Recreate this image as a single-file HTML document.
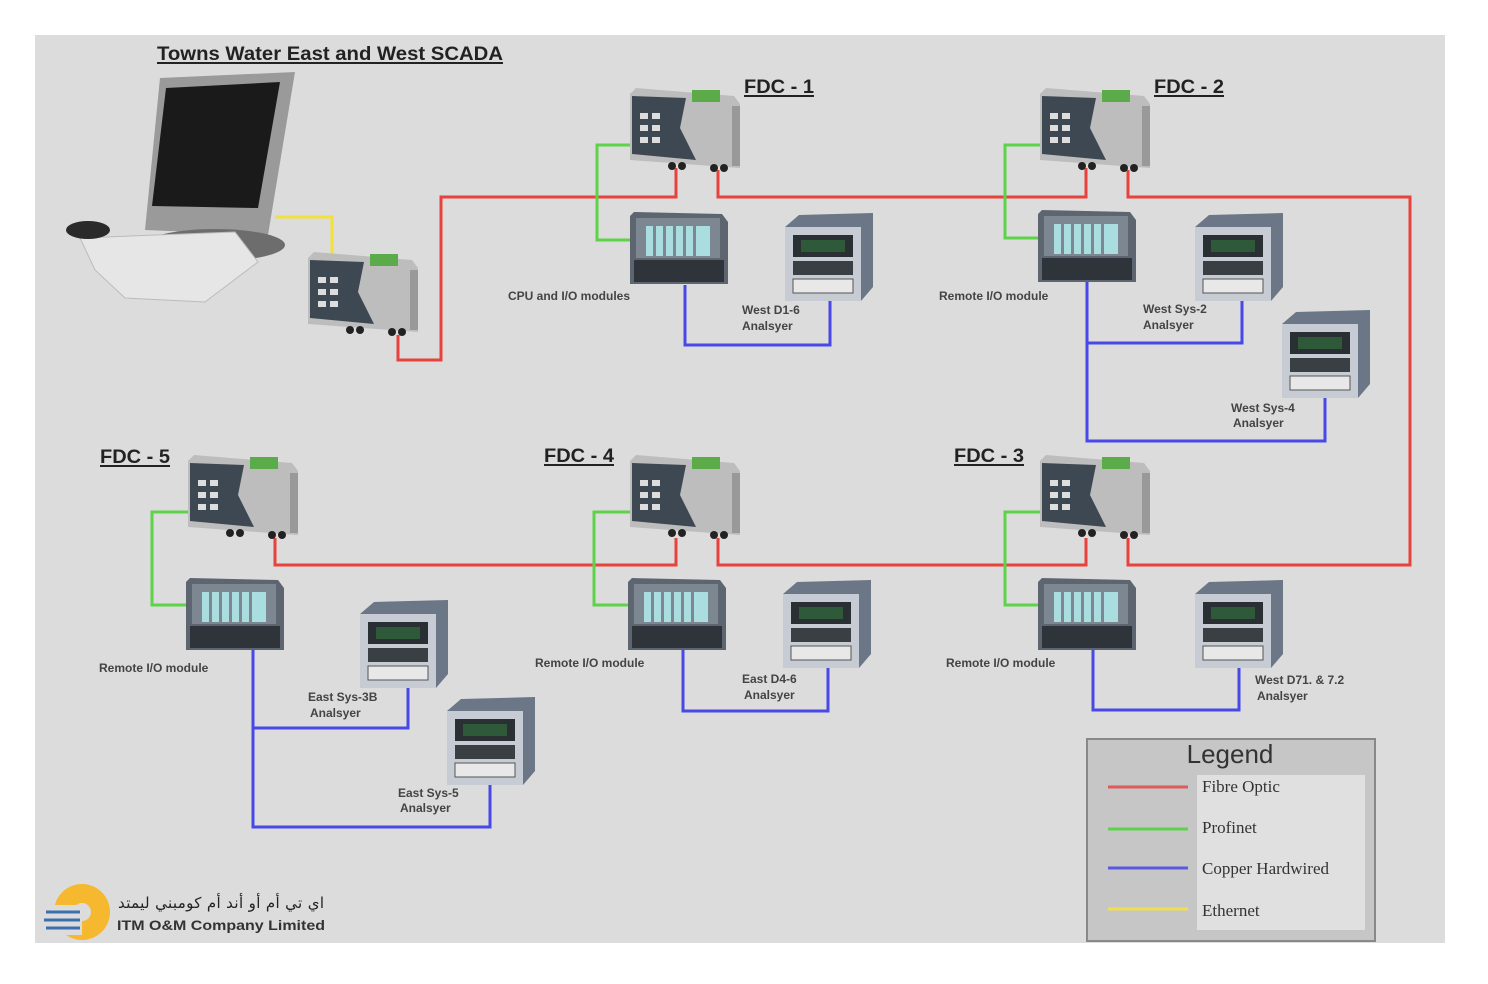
<!DOCTYPE html>
<html><head><meta charset="utf-8"><style>
html,body{margin:0;padding:0;background:#fff;}
svg{display:block;}
.s{font-family:"Liberation Sans",sans-serif;}
.serif{font-family:"Liberation Serif",serif;}
</style></head><body>
<svg width="1488" height="984" viewBox="0 0 1488 984" xmlns="http://www.w3.org/2000/svg">
<defs>
<g id="sw">
  <polygon points="0,6 6,0 104,8 110,16 110,80 0,72" fill="#bdbdbd"/>
  <polygon points="2,8 56,10 50,40 66,72 2,66" fill="#3e4852"/>
  <rect x="62" y="2" width="28" height="12" fill="#5cab4a"/>
  <rect x="10" y="25" width="8" height="6" fill="#ddd"/><rect x="10" y="37" width="8" height="6" fill="#ddd"/><rect x="10" y="49" width="8" height="6" fill="#ddd"/>
  <rect x="22" y="25" width="8" height="6" fill="#ddd"/><rect x="22" y="37" width="8" height="6" fill="#ddd"/><rect x="22" y="49" width="8" height="6" fill="#ddd"/>
  <rect x="102" y="18" width="8" height="60" fill="#999"/>
  <circle cx="42" cy="78" r="4" fill="#222"/><circle cx="52" cy="78" r="4" fill="#222"/>
  <circle cx="84" cy="80" r="4" fill="#222"/><circle cx="94" cy="80" r="4" fill="#222"/>
</g>
<g id="plc">
  <polygon points="0,4 4,0 92,2 98,10 98,72 0,72" fill="#5d6670"/>
  <rect x="6" y="6" width="84" height="40" fill="#7c8791"/>
  <rect x="16" y="14" width="7" height="30" fill="#a9dde0"/><rect x="26" y="14" width="7" height="30" fill="#a9dde0"/><rect x="36" y="14" width="7" height="30" fill="#a9dde0"/><rect x="46" y="14" width="7" height="30" fill="#a9dde0"/><rect x="56" y="14" width="7" height="30" fill="#a9dde0"/><rect x="66" y="14" width="14" height="30" fill="#a9dde0"/>
  <rect x="4" y="48" width="90" height="22" fill="#2f343a"/>
</g>
<g id="an">
  <polygon points="0,14 14,2 88,0 88,74 76,88 0,88" fill="#6b7686"/>
  <rect x="0" y="14" width="76" height="74" fill="#c7ccd4"/>
  <rect x="8" y="22" width="60" height="22" fill="#2a2f33"/>
  <rect x="16" y="27" width="44" height="12" fill="#2f5a3a"/>
  <rect x="8" y="48" width="60" height="14" fill="#3a3f44"/>
  <rect x="8" y="66" width="60" height="14" fill="#e8e8e8" stroke="#555"/>
</g>
</defs>
<rect x="35" y="35" width="1410" height="908" fill="#dcdcdc"/>

<g fill="none" stroke-width="3">
<g stroke="#e8423d">
<polyline points="398,335 398,360 441,360 441,197 676,197 676,168"/>
<polyline points="718,170 718,197 1086,197 1086,168"/>
<polyline points="1128,170 1128,197 1410,197 1410,565 1128,565 1128,538"/>
<polyline points="1086,538 1086,565 718,565 718,538"/>
<polyline points="676,538 676,565 275,565 275,538"/>
</g>
<g stroke="#5ed34a">
<polyline points="665,145 597,145 597,240 632,240"/>
<polyline points="1075,145 1005,145 1005,238 1040,238"/>
<polyline points="223,512 152,512 152,605 190,605"/>
<polyline points="665,512 594,512 594,605 632,605"/>
<polyline points="1075,512 1005,512 1005,605 1040,605"/>
</g>
<g stroke="#4848e8">
<polyline points="685,285 685,345 830,345 830,300"/>
<polyline points="1087,265 1087,441 1325,441 1325,395"/>
<polyline points="1087,343 1242,343 1242,298"/>
<polyline points="253,650 253,827 490,827 490,780"/>
<polyline points="253,728 408,728 408,686"/>
<polyline points="683,650 683,711 828,711 828,665"/>
<polyline points="1093,650 1093,710 1239,710 1239,665"/>
</g>
<polyline stroke="#f2e13a" points="275,217 332,217 332,280"/>
</g>

<!-- PC -->
<polygon points="160,78 295,72 268,235 145,230" fill="#9a9a9a"/>
<polygon points="166,88 280,82 258,208 152,206" fill="#1a1a1a"/>
<ellipse cx="215" cy="245" rx="70" ry="16" fill="#6d6d6d"/>
<polygon points="80,238 235,232 258,262 205,302 125,298 95,270" fill="#e6e6e6" stroke="#bbb"/>
<ellipse cx="88" cy="230" rx="22" ry="9" fill="#2a2a2a"/>

<use href="#sw" x="308" y="252"/>
<use href="#sw" x="630" y="88"/><use href="#plc" x="630" y="212"/><use href="#an" x="785" y="213"/>
<use href="#sw" x="1040" y="88"/><use href="#plc" x="1038" y="210"/><use href="#an" x="1195" y="213"/><use href="#an" x="1282" y="310"/>
<use href="#sw" x="188" y="455"/><use href="#plc" x="186" y="578"/><use href="#an" x="360" y="600"/><use href="#an" x="447" y="697"/>
<use href="#sw" x="630" y="455"/><use href="#plc" x="628" y="578"/><use href="#an" x="783" y="580"/>
<use href="#sw" x="1040" y="455"/><use href="#plc" x="1038" y="578"/><use href="#an" x="1195" y="580"/>

<g class="s" font-weight="bold" fill="#222">
<text x="157" y="60" font-size="19" textLength="346" lengthAdjust="spacingAndGlyphs">Towns Water East and West SCADA</text>
<text x="744" y="93" font-size="19" textLength="70" lengthAdjust="spacingAndGlyphs">FDC - 1</text>
<text x="1154" y="93" font-size="19" textLength="70" lengthAdjust="spacingAndGlyphs">FDC - 2</text>
<text x="100" y="463" font-size="19" textLength="70" lengthAdjust="spacingAndGlyphs">FDC - 5</text>
<text x="544" y="462" font-size="19" textLength="70" lengthAdjust="spacingAndGlyphs">FDC - 4</text>
<text x="954" y="462" font-size="19" textLength="70" lengthAdjust="spacingAndGlyphs">FDC - 3</text>
</g>
<g stroke="#222" stroke-width="2"><line x1="157" y1="63" x2="503" y2="63"/><line x1="744" y1="96" x2="814" y2="96"/><line x1="1154" y1="96" x2="1224" y2="96"/><line x1="100" y1="466" x2="170" y2="466"/><line x1="544" y1="465" x2="614" y2="465"/><line x1="954" y1="465" x2="1024" y2="465"/></g>

<g class="s" font-size="12" fill="#444" font-weight="bold">
<text x="508" y="300">CPU and I/O modules</text>
<text x="742" y="314">West D1-6</text><text x="742" y="330">Analsyer</text>
<text x="939" y="300">Remote I/O module</text>
<text x="1143" y="313">West Sys-2</text><text x="1143" y="329">Analsyer</text>
<text x="1231" y="412">West Sys-4</text><text x="1233" y="427">Analsyer</text>
<text x="99" y="672">Remote I/O module</text>
<text x="308" y="701">East Sys-3B</text><text x="310" y="717">Analsyer</text>
<text x="398" y="797">East Sys-5</text><text x="400" y="812">Analsyer</text>
<text x="535" y="667">Remote I/O module</text>
<text x="742" y="683">East D4-6</text><text x="744" y="699">Analsyer</text>
<text x="946" y="667">Remote I/O module</text>
<text x="1255" y="684">West D71. &amp; 7.2</text><text x="1257" y="700">Analsyer</text>
</g>

<circle cx="82" cy="912" r="28" fill="#f5b82e"/>
<circle cx="82" cy="912" r="9" fill="#dcdcdc"/>
<rect x="44" y="905" width="38" height="30" fill="#dcdcdc"/>
<g stroke="#3d6fb0" stroke-width="3"><line x1="46" y1="912" x2="80" y2="912"/><line x1="44" y1="920" x2="80" y2="920"/><line x1="46" y1="928" x2="80" y2="928"/></g>
<text x="118" y="908" font-size="15" fill="#222" style="font-family:'DejaVu Sans',sans-serif" textLength="206">اي تي أم أو أند أم كومبني ليمتد</text>
<text class="s" x="117" y="930" font-size="14" font-weight="bold" fill="#333" textLength="208" lengthAdjust="spacingAndGlyphs">ITM O&amp;M Company Limited</text>

<rect x="1087" y="739" width="288" height="202" fill="#c6c6c6" stroke="#888" stroke-width="2"/>
<rect x="1197" y="775" width="168" height="155" fill="#e0e0e0"/>
<text class="s" x="1230" y="763" font-size="26" text-anchor="middle" fill="#333">Legend</text>
<g stroke-width="3"><line x1="1108" y1="787" x2="1188" y2="787" stroke="#e05a5a"/><line x1="1108" y1="829" x2="1188" y2="829" stroke="#5ed34a"/><line x1="1108" y1="868" x2="1188" y2="868" stroke="#5a5ae0"/><line x1="1108" y1="909" x2="1188" y2="909" stroke="#f0e050"/></g>
<g class="serif" font-size="17" fill="#333">
<text x="1202" y="792">Fibre Optic</text><text x="1202" y="833">Profinet</text><text x="1202" y="874">Copper Hardwired</text><text x="1202" y="916">Ethernet</text>
</g>
</svg>
</body></html>
